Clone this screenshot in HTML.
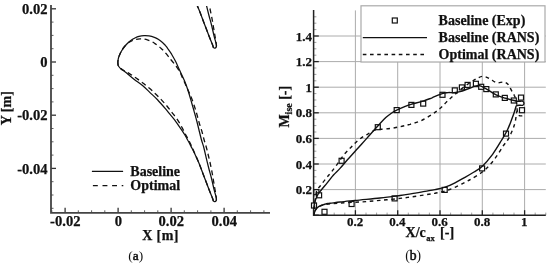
<!DOCTYPE html>
<html><head><meta charset="utf-8"><style>
html,body{margin:0;padding:0;background:#fff;width:550px;height:265px;overflow:hidden}
svg{display:block}
text{font-family:"Liberation Serif","Times New Roman",serif;fill:#111}
.b text{stroke:#111;stroke-width:0.25px}
</style></head><body>
<svg width="550" height="265" viewBox="0 0 550 265">
<rect width="550" height="265" fill="#fff"/>
<!-- LEFT PLOT -->
<defs>
<path id="bs" d="M118.1,65.0 C117.9,64.2 117.8,62.8 117.9,61.5 C118.0,60.2 118.2,58.8 118.6,57.5 C119.0,56.2 119.6,54.8 120.2,53.5 C120.8,52.2 121.4,51.0 122.2,49.8 C123.0,48.5 124.0,47.2 125.0,46.0 C126.0,44.8 127.0,43.7 128.1,42.7 C129.2,41.7 130.4,40.8 131.5,40.0 C132.6,39.2 133.7,38.6 134.9,38.0 C136.2,37.4 137.5,36.8 139.0,36.4 C140.5,36.0 142.3,35.7 144.0,35.6 C145.7,35.5 147.2,35.6 149.0,35.9 C150.8,36.2 153.3,37.0 155.0,37.6 C156.7,38.2 157.8,39.0 159.0,39.8 C160.2,40.6 161.4,41.6 162.5,42.5 C163.6,43.4 164.4,44.4 165.3,45.4 C166.2,46.4 166.8,47.1 167.8,48.6 C168.9,50.1 170.2,52.0 171.6,54.2 C172.9,56.4 174.6,59.4 175.9,62.0 C177.2,64.6 178.0,66.8 179.5,70.0 C181.0,73.2 183.2,77.6 184.7,81.3 C186.2,85.0 187.3,88.2 188.5,92.0 C189.7,95.8 191.0,100.7 192.0,104.0 C193.0,107.3 193.6,109.3 194.3,112.0 C195.1,114.7 195.7,117.0 196.5,120.0 C197.3,123.0 198.2,126.7 199.0,130.0 C199.8,133.3 200.7,137.1 201.5,140.0 C202.3,142.9 203.0,144.4 203.8,147.5 C204.6,150.6 205.6,155.2 206.4,158.6 C207.2,162.0 207.9,164.8 208.7,168.0 C209.5,171.2 210.5,174.5 211.4,178.0 C212.3,181.5 213.2,185.9 213.9,188.8 C214.6,191.7 215.3,193.9 215.7,195.5 C216.1,197.1 216.3,197.8 216.4,198.6 C216.5,199.4 216.5,200.1 216.2,200.6 C215.9,201.1 215.3,201.6 214.8,201.7 C214.3,201.8 213.8,201.4 213.4,200.9 C213.0,200.4 213.4,200.5 212.6,198.5 C211.8,196.5 210.1,192.4 208.8,189.0 C207.5,185.6 205.8,181.1 204.6,178.0 C203.4,174.9 202.6,172.8 201.7,170.3 C200.8,167.8 200.1,165.8 198.9,163.0 C197.7,160.2 195.9,156.3 194.6,153.5 C193.3,150.7 192.0,148.3 190.9,146.1 C189.8,143.9 188.9,142.2 187.8,140.3 C186.8,138.4 186.0,136.8 184.6,134.5 C183.2,132.2 181.1,129.2 179.3,126.6 C177.5,124.0 175.7,121.4 174.0,119.2 C172.3,117.0 170.4,114.9 169.0,113.2 C167.6,111.5 167.7,111.4 165.8,109.2 C163.9,107.0 160.1,102.6 157.5,99.8 C154.9,97.0 152.5,95.0 150.0,92.6 C147.5,90.2 145.2,87.7 142.5,85.5 C139.8,83.3 136.7,81.4 134.0,79.3 C131.3,77.2 128.5,74.5 126.3,72.8 C124.1,71.1 122.2,70.0 121.0,69.0 C119.8,68.0 119.3,67.2 118.8,66.5 C118.3,65.8 118.2,65.8 118.1,65.0Z"/>
<path id="bo" d="M118.1,65.0 C118.0,64.2 117.8,62.8 117.9,61.5 C118.0,60.2 118.2,58.8 118.6,57.5 C119.0,56.2 119.6,54.8 120.2,53.5 C120.8,52.2 121.4,51.0 122.2,49.8 C123.0,48.5 123.9,47.3 125.0,46.0 C126.1,44.7 127.8,43.1 129.0,42.2 C130.2,41.3 131.3,41.0 132.5,40.5 C133.7,40.0 134.8,39.7 136.0,39.4 C137.2,39.1 138.7,38.9 140.0,38.9 C141.3,38.9 142.7,38.9 144.0,39.1 C145.3,39.3 146.7,39.7 148.0,40.1 C149.3,40.5 150.7,41.0 151.9,41.6 C153.1,42.2 153.9,42.8 155.0,43.6 C156.1,44.4 157.5,45.4 158.7,46.3 C159.9,47.2 160.9,48.2 162.0,49.2 C163.1,50.2 163.9,51.0 165.0,52.3 C166.1,53.5 167.0,54.8 168.5,56.7 C170.0,58.6 172.4,61.4 174.2,63.7 C175.9,66.0 177.4,67.9 179.0,70.6 C180.6,73.3 182.0,76.8 183.5,80.0 C185.0,83.2 186.7,87.0 188.0,90.0 C189.3,93.0 190.2,94.7 191.5,98.0 C192.8,101.3 194.3,105.9 195.6,110.0 C196.9,114.1 198.1,119.0 199.1,122.5 C200.1,126.0 201.0,128.2 201.8,131.0 C202.6,133.8 203.3,136.9 204.0,139.5 C204.7,142.1 205.4,144.1 206.1,146.5 C206.8,148.9 207.4,151.5 208.0,154.0 C208.6,156.5 209.2,159.1 209.8,161.5 C210.4,163.9 210.8,166.2 211.3,168.5 C211.8,170.8 212.2,173.2 212.6,175.5 C213.0,177.8 213.4,180.2 213.8,182.5 C214.2,184.8 214.5,186.8 214.9,189.0 C215.3,191.2 215.8,193.9 216.0,195.5 C216.2,197.1 216.4,198.0 216.4,198.8 C216.4,199.7 216.5,200.1 216.2,200.6 C215.9,201.1 215.3,201.6 214.8,201.7 C214.3,201.8 213.8,201.4 213.4,200.9 C213.0,200.4 213.4,200.5 212.6,198.5 C211.8,196.5 210.1,192.4 208.8,189.0 C207.5,185.6 205.8,181.1 204.6,178.0 C203.4,174.9 202.6,172.8 201.7,170.3 C200.8,167.8 200.1,165.8 198.9,163.0 C197.8,160.2 196.0,156.2 194.8,153.4 C193.6,150.6 192.5,148.1 191.5,145.9 C190.5,143.7 189.6,141.9 188.6,140.0 C187.6,138.1 186.3,135.9 185.4,134.2 C184.5,132.5 183.9,131.2 183.1,129.6 C182.2,127.9 181.4,126.2 180.3,124.3 C179.2,122.4 177.8,120.1 176.6,118.4 C175.4,116.7 174.4,115.6 173.3,114.2 C172.2,112.8 171.3,111.5 170.3,110.2 C169.3,108.9 168.3,107.7 167.3,106.5 C166.3,105.3 165.4,104.1 164.3,102.9 C163.2,101.7 162.1,100.5 161.0,99.4 C159.9,98.3 159.0,97.3 157.9,96.2 C156.8,95.1 155.5,94.0 154.3,92.8 C153.1,91.6 152.0,90.4 150.7,89.3 C149.4,88.2 147.9,87.0 146.7,86.0 C145.4,85.0 144.4,84.1 143.2,83.2 C142.0,82.3 140.8,81.4 139.5,80.5 C138.2,79.6 137.0,78.7 135.7,77.8 C134.4,76.9 133.0,75.9 131.6,75.0 C130.2,74.1 128.8,73.3 127.5,72.5 C126.2,71.7 124.7,70.9 123.5,70.2 C122.3,69.5 121.1,68.9 120.3,68.2 C119.5,67.5 119.0,66.8 118.6,66.3 C118.2,65.8 118.2,65.8 118.1,65.0Z"/>
<clipPath id="lc"><rect x="51" y="6" width="225" height="207"/></clipPath>
</defs>
<g clip-path="url(#lc)" fill="none" stroke="#111" stroke-linejoin="round">
<use href="#bs" stroke-width="1.25"/>
<use href="#bs" stroke-width="1.25" transform="translate(0,-153.5)"/>
<use href="#bo" stroke-width="1.3" stroke-dasharray="5 3.5"/>
<use href="#bo" stroke-width="1.3" stroke-dasharray="5 3.5" transform="translate(0,-153.5)"/>
</g>
<g stroke="#333" fill="none">
<line x1="51.8" y1="212.8" x2="51.8" y2="210.3" stroke-width="0.8"/><line x1="65.1" y1="212.8" x2="65.1" y2="207.8" stroke-width="1.3"/><line x1="78.3" y1="212.8" x2="78.3" y2="210.3" stroke-width="0.8"/><line x1="91.6" y1="212.8" x2="91.6" y2="210.3" stroke-width="0.8"/><line x1="104.8" y1="212.8" x2="104.8" y2="210.3" stroke-width="0.8"/><line x1="118.1" y1="212.8" x2="118.1" y2="207.8" stroke-width="1.3"/><line x1="131.3" y1="212.8" x2="131.3" y2="210.3" stroke-width="0.8"/><line x1="144.6" y1="212.8" x2="144.6" y2="210.3" stroke-width="0.8"/><line x1="157.8" y1="212.8" x2="157.8" y2="210.3" stroke-width="0.8"/><line x1="171.1" y1="212.8" x2="171.1" y2="207.8" stroke-width="1.3"/><line x1="184.3" y1="212.8" x2="184.3" y2="210.3" stroke-width="0.8"/><line x1="197.6" y1="212.8" x2="197.6" y2="210.3" stroke-width="0.8"/><line x1="210.9" y1="212.8" x2="210.9" y2="210.3" stroke-width="0.8"/><line x1="224.1" y1="212.8" x2="224.1" y2="207.8" stroke-width="1.3"/><line x1="237.3" y1="212.8" x2="237.3" y2="210.3" stroke-width="0.8"/><line x1="250.6" y1="212.8" x2="250.6" y2="210.3" stroke-width="0.8"/><line x1="263.9" y1="212.8" x2="263.9" y2="210.3" stroke-width="0.8"/><line x1="51" y1="208.3" x2="53.5" y2="208.3" stroke-width="0.8"/><line x1="51" y1="195.0" x2="53.5" y2="195.0" stroke-width="0.8"/><line x1="51" y1="181.7" x2="53.5" y2="181.7" stroke-width="0.8"/><line x1="51" y1="168.4" x2="56.0" y2="168.4" stroke-width="1.3"/><line x1="51" y1="155.1" x2="53.5" y2="155.1" stroke-width="0.8"/><line x1="51" y1="141.8" x2="53.5" y2="141.8" stroke-width="0.8"/><line x1="51" y1="128.5" x2="53.5" y2="128.5" stroke-width="0.8"/><line x1="51" y1="115.2" x2="56.0" y2="115.2" stroke-width="1.3"/><line x1="51" y1="101.9" x2="53.5" y2="101.9" stroke-width="0.8"/><line x1="51" y1="88.6" x2="53.5" y2="88.6" stroke-width="0.8"/><line x1="51" y1="75.3" x2="53.5" y2="75.3" stroke-width="0.8"/><line x1="51" y1="62.0" x2="56.0" y2="62.0" stroke-width="1.3"/><line x1="51" y1="48.7" x2="53.5" y2="48.7" stroke-width="0.8"/><line x1="51" y1="35.4" x2="53.5" y2="35.4" stroke-width="0.8"/><line x1="51" y1="22.1" x2="53.5" y2="22.1" stroke-width="0.8"/><line x1="51" y1="8.8" x2="56.0" y2="8.8" stroke-width="1.3"/>
</g>
<path d="M51,5 V212.8 H270" fill="none" stroke="#444" stroke-width="1.8"/>
<g class="b" font-size="14" font-weight="bold">
<text x="47.6" y="14.0" text-anchor="end" font-size="14.6">0.02</text><text x="47.6" y="67.2" text-anchor="end" font-size="14.6">0</text><text x="47.6" y="120.4" text-anchor="end" font-size="14.6">-0.02</text><text x="47.6" y="173.6" text-anchor="end" font-size="14.6">-0.04</text><text x="65.3" y="226.1" text-anchor="middle" font-size="14.6">-0.02</text><text x="118.3" y="226.1" text-anchor="middle" font-size="14.6">0</text><text x="171.3" y="226.1" text-anchor="middle" font-size="14.6">0.02</text><text x="224.3" y="226.1" text-anchor="middle" font-size="14.6">0.04</text>
<text x="142.3" y="239.9">X<tspan dx="0.3" letter-spacing="0.4"> [m]</tspan></text>
<text transform="translate(11.4,108.2) rotate(-90)" text-anchor="middle">Y [m]</text>
<text x="130.3" y="175.9">Baseline</text>
<text x="130.3" y="190.4">Optimal</text>
</g>
<line x1="91.9" y1="171.4" x2="123.1" y2="171.4" stroke="#111" stroke-width="1.15"/>
<line x1="92.9" y1="185.6" x2="123.3" y2="185.6" stroke="#111" stroke-width="1.3" stroke-dasharray="4.9 4.7"/>
<text x="135.8" y="259.6" font-size="13.4" text-anchor="middle">(<tspan stroke="#111" stroke-width="0.55">a</tspan>)</text>

<!-- RIGHT PLOT -->
<g stroke="#acacac" stroke-width="1">
<line x1="355.4" y1="10.4" x2="355.4" y2="215.2"/><line x1="397.7" y1="10.4" x2="397.7" y2="215.2"/><line x1="440.0" y1="10.4" x2="440.0" y2="215.2"/><line x1="482.3" y1="10.4" x2="482.3" y2="215.2"/><line x1="524.6" y1="10.4" x2="524.6" y2="215.2"/><line x1="313.6" y1="189.6" x2="545.8" y2="189.6"/><line x1="313.6" y1="164.0" x2="545.8" y2="164.0"/><line x1="313.6" y1="138.4" x2="545.8" y2="138.4"/><line x1="313.6" y1="112.8" x2="545.8" y2="112.8"/><line x1="313.6" y1="87.2" x2="545.8" y2="87.2"/><line x1="313.6" y1="61.6" x2="545.8" y2="61.6"/><line x1="313.6" y1="36.0" x2="545.8" y2="36.0"/>
</g>
<g stroke="#222">
<line x1="313.6" y1="215.2" x2="318.8" y2="215.2" stroke="#222" stroke-width="1.3"/><line x1="313.6" y1="208.8" x2="316.4" y2="208.8" stroke="#888" stroke-width="0.8"/><line x1="313.6" y1="202.4" x2="316.4" y2="202.4" stroke="#888" stroke-width="0.8"/><line x1="313.6" y1="196.0" x2="316.4" y2="196.0" stroke="#888" stroke-width="0.8"/><line x1="313.6" y1="189.6" x2="318.8" y2="189.6" stroke="#222" stroke-width="1.3"/><line x1="313.6" y1="183.2" x2="316.4" y2="183.2" stroke="#888" stroke-width="0.8"/><line x1="313.6" y1="176.8" x2="316.4" y2="176.8" stroke="#888" stroke-width="0.8"/><line x1="313.6" y1="170.4" x2="316.4" y2="170.4" stroke="#888" stroke-width="0.8"/><line x1="313.6" y1="164.0" x2="318.8" y2="164.0" stroke="#222" stroke-width="1.3"/><line x1="313.6" y1="157.6" x2="316.4" y2="157.6" stroke="#888" stroke-width="0.8"/><line x1="313.6" y1="151.2" x2="316.4" y2="151.2" stroke="#888" stroke-width="0.8"/><line x1="313.6" y1="144.8" x2="316.4" y2="144.8" stroke="#888" stroke-width="0.8"/><line x1="313.6" y1="138.4" x2="318.8" y2="138.4" stroke="#222" stroke-width="1.3"/><line x1="313.6" y1="132.0" x2="316.4" y2="132.0" stroke="#888" stroke-width="0.8"/><line x1="313.6" y1="125.6" x2="316.4" y2="125.6" stroke="#888" stroke-width="0.8"/><line x1="313.6" y1="119.2" x2="316.4" y2="119.2" stroke="#888" stroke-width="0.8"/><line x1="313.6" y1="112.8" x2="318.8" y2="112.8" stroke="#222" stroke-width="1.3"/><line x1="313.6" y1="106.4" x2="316.4" y2="106.4" stroke="#888" stroke-width="0.8"/><line x1="313.6" y1="100.0" x2="316.4" y2="100.0" stroke="#888" stroke-width="0.8"/><line x1="313.6" y1="93.6" x2="316.4" y2="93.6" stroke="#888" stroke-width="0.8"/><line x1="313.6" y1="87.2" x2="318.8" y2="87.2" stroke="#222" stroke-width="1.3"/><line x1="313.6" y1="80.8" x2="316.4" y2="80.8" stroke="#888" stroke-width="0.8"/><line x1="313.6" y1="74.4" x2="316.4" y2="74.4" stroke="#888" stroke-width="0.8"/><line x1="313.6" y1="68.0" x2="316.4" y2="68.0" stroke="#888" stroke-width="0.8"/><line x1="313.6" y1="61.6" x2="318.8" y2="61.6" stroke="#222" stroke-width="1.3"/><line x1="313.6" y1="55.2" x2="316.4" y2="55.2" stroke="#888" stroke-width="0.8"/><line x1="313.6" y1="48.8" x2="316.4" y2="48.8" stroke="#888" stroke-width="0.8"/><line x1="313.6" y1="42.4" x2="316.4" y2="42.4" stroke="#888" stroke-width="0.8"/><line x1="313.6" y1="36.0" x2="318.8" y2="36.0" stroke="#222" stroke-width="1.3"/><line x1="313.6" y1="29.6" x2="316.4" y2="29.6" stroke="#888" stroke-width="0.8"/><line x1="313.6" y1="23.2" x2="316.4" y2="23.2" stroke="#888" stroke-width="0.8"/><line x1="313.6" y1="16.8" x2="316.4" y2="16.8" stroke="#888" stroke-width="0.8"/><line x1="323.7" y1="215.2" x2="323.7" y2="212.6" stroke="#888" stroke-width="0.8"/><line x1="334.2" y1="215.2" x2="334.2" y2="212.6" stroke="#888" stroke-width="0.8"/><line x1="344.8" y1="215.2" x2="344.8" y2="212.6" stroke="#888" stroke-width="0.8"/><line x1="355.4" y1="215.2" x2="355.4" y2="210.2" stroke="#222" stroke-width="1.3"/><line x1="366.0" y1="215.2" x2="366.0" y2="212.6" stroke="#888" stroke-width="0.8"/><line x1="376.6" y1="215.2" x2="376.6" y2="212.6" stroke="#888" stroke-width="0.8"/><line x1="387.1" y1="215.2" x2="387.1" y2="212.6" stroke="#888" stroke-width="0.8"/><line x1="397.7" y1="215.2" x2="397.7" y2="210.2" stroke="#222" stroke-width="1.3"/><line x1="408.3" y1="215.2" x2="408.3" y2="212.6" stroke="#888" stroke-width="0.8"/><line x1="418.9" y1="215.2" x2="418.9" y2="212.6" stroke="#888" stroke-width="0.8"/><line x1="429.4" y1="215.2" x2="429.4" y2="212.6" stroke="#888" stroke-width="0.8"/><line x1="440.0" y1="215.2" x2="440.0" y2="210.2" stroke="#222" stroke-width="1.3"/><line x1="450.6" y1="215.2" x2="450.6" y2="212.6" stroke="#888" stroke-width="0.8"/><line x1="461.2" y1="215.2" x2="461.2" y2="212.6" stroke="#888" stroke-width="0.8"/><line x1="471.7" y1="215.2" x2="471.7" y2="212.6" stroke="#888" stroke-width="0.8"/><line x1="482.3" y1="215.2" x2="482.3" y2="210.2" stroke="#222" stroke-width="1.3"/><line x1="492.9" y1="215.2" x2="492.9" y2="212.6" stroke="#888" stroke-width="0.8"/><line x1="503.5" y1="215.2" x2="503.5" y2="212.6" stroke="#888" stroke-width="0.8"/><line x1="514.0" y1="215.2" x2="514.0" y2="212.6" stroke="#888" stroke-width="0.8"/><line x1="524.6" y1="215.2" x2="524.6" y2="210.2" stroke="#222" stroke-width="1.3"/><line x1="535.2" y1="215.2" x2="535.2" y2="212.6" stroke="#888" stroke-width="0.8"/><line x1="545.8" y1="215.2" x2="545.8" y2="212.6" stroke="#888" stroke-width="0.8"/>
</g>
<path d="M313.6,10 V215.2 H545.8" fill="none" stroke="#222" stroke-width="1.5"/>
<g fill="#fff" stroke="#111" stroke-width="1.2">
<rect x="313.9" y="189.7" width="5.0" height="5.0"/><rect x="316.6" y="192.8" width="5.0" height="5.0"/><rect x="311.5" y="203.0" width="5.0" height="5.0"/><rect x="322.0" y="209.3" width="5.0" height="5.0"/><rect x="339.1" y="158.3" width="5.0" height="5.0"/><rect x="375.3" y="124.7" width="5.0" height="5.0"/><rect x="394.2" y="107.6" width="5.0" height="5.0"/><rect x="408.9" y="102.4" width="5.0" height="5.0"/><rect x="420.7" y="101.1" width="5.0" height="5.0"/><rect x="440.0" y="92.3" width="5.0" height="5.0"/><rect x="452.3" y="87.9" width="5.0" height="5.0"/><rect x="459.4" y="84.9" width="5.0" height="5.0"/><rect x="465.1" y="82.4" width="5.0" height="5.0"/><rect x="473.4" y="81.3" width="5.0" height="5.0"/><rect x="478.7" y="84.3" width="5.0" height="5.0"/><rect x="483.8" y="86.6" width="5.0" height="5.0"/><rect x="493.3" y="91.9" width="5.0" height="5.0"/><rect x="502.3" y="95.4" width="5.0" height="5.0"/><rect x="511.3" y="98.0" width="5.0" height="5.0"/><rect x="518.5" y="95.1" width="5.0" height="5.0"/><rect x="519.5" y="107.7" width="5.0" height="5.0"/><rect x="349.1" y="201.5" width="5.0" height="5.0"/><rect x="392.1" y="195.9" width="5.0" height="5.0"/><rect x="442.2" y="187.4" width="5.0" height="5.0"/><rect x="479.6" y="165.9" width="5.0" height="5.0"/><rect x="503.5" y="131.1" width="5.0" height="5.0"/>
</g>
<g fill="none" stroke="#111" stroke-width="1.4">
<path d="M313.8,208.0 C313.9,207.2 314.2,204.7 314.6,203.0 C315.0,201.3 315.4,199.7 316.2,198.0 C316.9,196.3 317.3,195.2 319.1,192.7 C320.9,190.2 324.6,186.0 327.0,183.1 C329.4,180.2 331.3,177.4 333.5,175.0 C335.7,172.6 337.8,170.8 340.0,168.4 C342.2,166.0 344.3,163.4 347.0,160.3 C349.7,157.2 352.9,153.7 356.2,150.0 C359.5,146.3 363.8,141.7 367.0,138.1 C370.2,134.5 373.2,131.0 375.5,128.5 C377.8,126.0 378.8,124.8 380.5,123.0 C382.2,121.2 384.1,119.2 385.8,117.6 C387.6,116.0 389.2,114.8 391.0,113.5 C392.8,112.2 394.4,111.2 396.7,110.1 C399.0,109.0 402.2,107.7 404.6,106.7 C407.0,105.7 407.9,105.2 411.0,104.3 C414.1,103.4 419.7,102.2 423.2,101.1 C426.7,100.0 428.9,99.0 432.0,97.8 C435.1,96.5 439.4,94.5 442.1,93.6 C444.8,92.7 446.0,92.8 448.0,92.6 C450.0,92.4 452.0,92.8 454.0,92.6 C456.0,92.4 457.8,92.2 460.1,91.6 C462.4,91.0 465.1,89.9 467.6,89.0 C470.1,88.1 473.3,86.8 475.2,86.2 C477.1,85.6 477.6,85.4 478.8,85.5 C480.0,85.6 481.1,86.2 482.5,86.9 C483.9,87.6 484.7,88.1 487.0,89.4 C489.3,90.7 493.1,93.4 496.1,94.9 C499.1,96.4 502.2,97.3 505.2,98.2 C508.2,99.1 512.0,100.0 514.2,100.5 C516.4,101.0 517.1,101.2 518.5,101.3 C519.9,101.4 521.4,100.9 522.3,101.2 C523.2,101.5 524.0,102.5 524.0,103.2 C524.0,103.9 523.4,105.0 522.5,105.3 C521.6,105.6 519.8,105.1 518.8,105.2 C517.8,105.3 516.6,105.7 516.2,105.8 M516.2,105.8 C515.9,106.9 515.0,110.1 514.2,112.5 C513.4,114.9 512.4,117.5 511.3,120.4 C510.2,123.3 509.0,126.7 507.4,130.0 C505.8,133.3 504.2,135.9 501.7,140.0 C499.2,144.1 495.9,149.9 492.6,154.3 C489.3,158.7 485.2,163.5 482.1,166.4 C479.0,169.3 476.9,170.2 474.0,172.0 C471.1,173.8 468.2,175.5 465.0,177.3 C461.8,179.1 458.3,181.2 455.0,182.8 C451.7,184.5 448.3,186.1 445.0,187.2 C441.7,188.3 438.3,188.9 435.0,189.6 C431.7,190.3 428.8,190.7 425.0,191.4 C421.2,192.1 416.2,192.9 412.0,193.6 C407.8,194.3 405.3,194.8 400.0,195.5 C394.7,196.2 387.5,197.2 380.0,198.0 C372.5,198.8 361.7,199.7 355.0,200.4 C348.3,201.1 344.2,201.5 340.0,202.0 C335.8,202.5 332.5,203.0 330.0,203.3 C327.5,203.7 327.1,203.5 325.2,204.1 C323.3,204.7 320.3,205.6 318.6,206.7 C316.9,207.8 316.0,209.1 315.2,210.5 C314.4,211.9 314.2,214.2 314.0,215.0"/>
<path d="M314.2,209.0 C314.4,207.5 314.8,203.1 315.2,200.0 C315.6,196.9 316.0,192.8 316.8,190.5 C317.6,188.2 318.7,188.0 320.2,186.0 C321.7,184.0 324.1,180.8 325.9,178.6 C327.7,176.3 329.1,174.9 331.0,172.5 C332.9,170.1 335.1,167.2 337.3,164.2 C339.5,161.2 342.0,157.1 344.3,154.3 C346.6,151.5 349.0,149.3 351.1,147.2 C353.2,145.1 354.7,143.3 356.8,141.5 C358.9,139.7 361.4,137.8 363.6,136.4 C365.8,135.0 368.0,134.0 369.8,133.0 C371.6,132.0 373.1,130.8 374.5,130.2 C375.9,129.6 376.8,129.6 378.5,129.4 C380.2,129.2 382.5,129.2 385.0,129.0 C387.5,128.8 390.5,128.4 393.3,128.0 C396.1,127.5 399.2,126.9 402.0,126.3 C404.8,125.7 406.8,125.2 410.0,124.3 C413.2,123.3 417.5,122.3 421.3,120.6 C425.1,118.9 429.5,116.0 432.6,114.0 C435.8,112.0 437.9,110.3 440.2,108.3 C442.5,106.3 444.2,104.2 446.5,102.0 C448.8,99.8 451.2,97.6 454.0,95.2 C456.8,92.8 460.3,89.8 463.1,87.6 C465.9,85.4 468.4,83.8 470.7,82.3 C473.0,80.8 474.7,79.6 476.7,78.6 C478.7,77.6 480.6,76.3 482.7,76.3 C484.8,76.3 487.0,77.4 489.3,78.4 C491.6,79.5 494.1,82.0 496.5,82.6 C498.9,83.2 501.8,81.8 503.7,82.1 C505.6,82.4 506.9,83.3 508.2,84.6 C509.4,85.9 510.2,88.1 511.2,89.9 C512.2,91.7 513.4,93.4 514.2,95.2 C515.1,97.0 515.8,98.7 516.3,100.5 C516.8,102.3 516.7,104.2 516.9,106.0 C517.1,107.8 517.0,109.9 517.4,111.5 C517.8,113.1 518.1,114.9 519.3,115.6 C520.4,116.3 523.5,115.6 524.3,115.6 M517.3,110.0 C517.1,110.6 516.7,111.7 516.4,113.6 C516.1,115.5 515.8,119.2 515.3,121.5 C514.8,123.8 514.2,125.5 513.5,127.5 C512.8,129.5 512.0,131.4 511.0,133.5 C510.0,135.6 509.1,137.8 507.7,140.0 C506.3,142.2 505.1,143.2 502.8,146.5 C500.6,149.8 497.4,155.5 494.2,159.6 C491.0,163.7 487.4,167.8 483.6,171.0 C479.8,174.2 474.6,176.9 471.5,178.8 C468.4,180.7 467.8,180.9 465.0,182.3 C462.2,183.7 458.3,185.9 455.0,187.3 C451.7,188.8 448.3,190.0 445.0,191.0 C441.7,192.0 438.3,192.5 435.0,193.2 C431.7,193.8 428.8,194.3 425.0,194.9 C421.2,195.5 416.2,196.2 412.0,196.8 C407.8,197.4 405.3,197.8 400.0,198.4 C394.7,199.0 386.7,199.8 380.0,200.4 C373.3,201.0 366.7,201.6 360.0,202.0 C353.3,202.4 345.8,202.6 340.0,203.0 C334.2,203.4 328.7,203.8 325.0,204.5 C321.3,205.2 319.7,205.9 318.0,207.0 C316.3,208.1 315.7,209.7 315.0,211.0 C314.3,212.3 314.2,214.3 314.0,215.0" stroke-dasharray="3.6 3.6"/>
</g>
<g class="b" font-size="13" font-weight="bold">
<text x="312.1" y="194.1" text-anchor="end">0.2</text><text x="312.1" y="168.5" text-anchor="end">0.4</text><text x="312.1" y="142.9" text-anchor="end">0.6</text><text x="312.1" y="117.3" text-anchor="end">0.8</text><text x="312.1" y="91.7" text-anchor="end">1</text><text x="312.1" y="66.1" text-anchor="end">1.2</text><text x="312.1" y="40.5" text-anchor="end">1.4</text>
<text x="355.1" y="225.8" text-anchor="middle">0.2</text><text x="397.4" y="225.8" text-anchor="middle">0.4</text><text x="439.7" y="225.8" text-anchor="middle">0.6</text><text x="482.0" y="225.8" text-anchor="middle">0.8</text><text x="524.3" y="225.8" text-anchor="middle">1</text>
</g>
<!-- legend -->
<rect x="361" y="5.8" width="184" height="56.2" fill="#fff" stroke="#aaa" stroke-width="1.2"/>
<rect x="392.3" y="18" width="5" height="5" fill="#fff" stroke="#111" stroke-width="1.2"/>
<line x1="362.8" y1="37.6" x2="427" y2="37.6" stroke="#111" stroke-width="1.4"/>
<line x1="362.8" y1="54.5" x2="427" y2="54.5" stroke="#111" stroke-width="1.4" stroke-dasharray="3.6 3.6"/>
<g class="b" font-size="14" font-weight="bold">
<text x="438.6" y="24.5">Baseline (Exp)</text>
<text x="438.6" y="41.5">Baseline (RANS)</text>
<text x="438.6" y="58.5">Optimal (RANS)</text>
</g>
<g class="b" font-weight="bold">
<text transform="translate(288.9,106.7) rotate(-90)" text-anchor="middle" font-size="14">M<tspan font-size="10" dy="3.5">ise</tspan><tspan dy="-3.5"> [-]</tspan></text>
<text x="405.6" y="237" font-size="14">X/c<tspan font-size="8.4" dy="4.3" dx="0.4">ax</tspan><tspan dy="-4.3" dx="2"> [-]</tspan></text>
</g>
<text x="413.2" y="259.6" font-size="13.6" text-anchor="middle">(<tspan stroke="#111" stroke-width="0.55">b</tspan>)</text>
</svg>
</body></html>
